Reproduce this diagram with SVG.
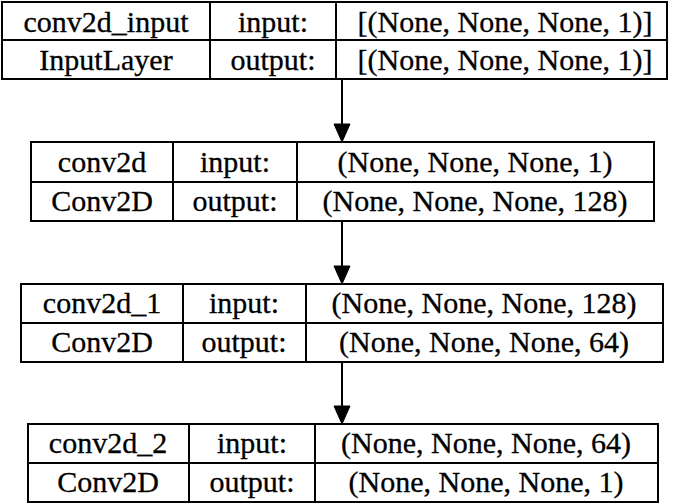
<svg xmlns="http://www.w3.org/2000/svg" width="685" height="504" viewBox="0 0 685 504">
<style>
  .box { fill: #fff; stroke: #000; stroke-width: 2; }
  .ln { stroke: #000; stroke-width: 2; }
  text { font-family: "Liberation Serif", "Times New Roman", serif; font-size: 30px; fill: #000; stroke: #000; stroke-width: 0.3; text-anchor: middle; dominant-baseline: central; }
  .edge { stroke: #000; stroke-width: 2; fill: none; }
  .head { fill: #000; stroke: #000; stroke-width: 1; }
</style>
<rect width="685" height="504" fill="#fff"/>
<g id="connectors">
  <line class="edge" x1="342" y1="79" x2="342" y2="126"/>
  <polygon class="head" points="334,124 350,124 342,142"/>
  <line class="edge" x1="342" y1="221" x2="342" y2="268"/>
  <polygon class="head" points="334,266 350,266 342,284"/>
  <line class="edge" x1="342" y1="362" x2="342" y2="408"/>
  <polygon class="head" points="334,406 350,406 342,424"/>
</g>
<g id="conv2d_input">
  <rect class="box" x="2" y="2" width="665" height="77"/>
  <line class="ln" x1="2" y1="40" x2="667" y2="40"/>
  <line class="ln" x1="210" y1="2" x2="210" y2="79"/>
  <line class="ln" x1="336" y1="2" x2="336" y2="79"/>
  <text x="106" y="21">conv2d_input</text>
  <text x="273" y="21">input:</text>
  <text x="505" y="21">[(None, None, None, 1)]</text>
  <text x="106" y="59">InputLayer</text>
  <text x="273" y="59">output:</text>
  <text x="505" y="59">[(None, None, None, 1)]</text>
</g>
<g id="conv2d">
  <rect class="box" x="31" y="142" width="623" height="79"/>
  <line class="ln" x1="31" y1="182" x2="654" y2="182"/>
  <line class="ln" x1="173" y1="142" x2="173" y2="221"/>
  <line class="ln" x1="297" y1="142" x2="297" y2="221"/>
  <text x="102" y="161">conv2d</text>
  <text x="235" y="161">input:</text>
  <text x="475" y="161">(None, None, None, 1)</text>
  <text x="102" y="200">Conv2D</text>
  <text x="235" y="200">output:</text>
  <text x="475" y="200">(None, None, None, 128)</text>
</g>
<g id="conv2d_1">
  <rect class="box" x="21" y="284" width="642" height="78"/>
  <line class="ln" x1="21" y1="323" x2="663" y2="323"/>
  <line class="ln" x1="183" y1="284" x2="183" y2="362"/>
  <line class="ln" x1="306" y1="284" x2="306" y2="362"/>
  <text x="102" y="302">conv2d_1</text>
  <text x="244" y="302">input:</text>
  <text x="484" y="302">(None, None, None, 128)</text>
  <text x="102" y="341">Conv2D</text>
  <text x="244" y="341">output:</text>
  <text x="484" y="341">(None, None, None, 64)</text>
</g>
<g id="conv2d_2">
  <rect class="box" x="28" y="424" width="630" height="78"/>
  <line class="ln" x1="28" y1="463" x2="658" y2="463"/>
  <line class="ln" x1="189" y1="424" x2="189" y2="502"/>
  <line class="ln" x1="315" y1="424" x2="315" y2="502"/>
  <text x="108" y="442">conv2d_2</text>
  <text x="252" y="442">input:</text>
  <text x="486" y="442">(None, None, None, 64)</text>
  <text x="108" y="481">Conv2D</text>
  <text x="252" y="481">output:</text>
  <text x="486" y="481">(None, None, None, 1)</text>
</g>
</svg>
